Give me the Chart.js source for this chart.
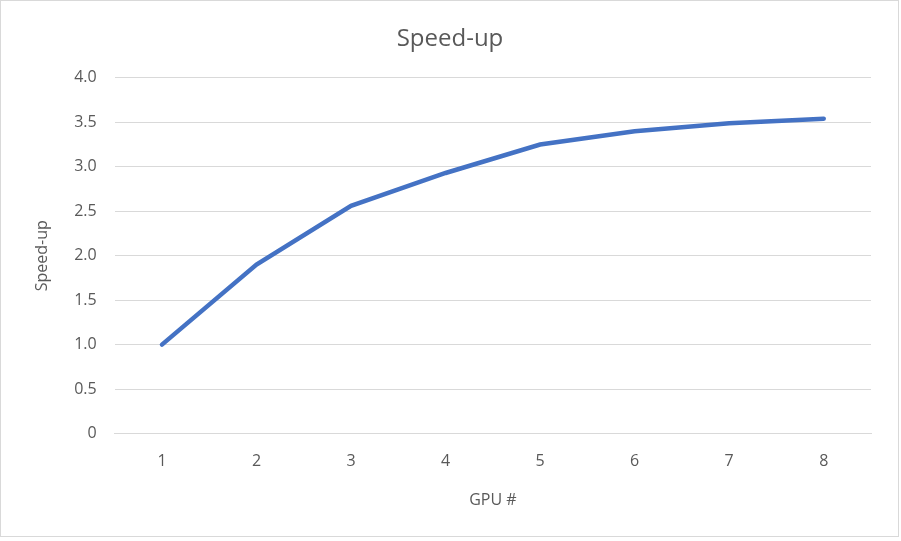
<!DOCTYPE html>
<html><head>
<script src="https://cdn.jsdelivr.net/npm/chart.js@4"></script>
<style>
html,body{margin:0;padding:0;background:#fff;}
#wrap{position:absolute;left:0;top:0;width:899px;height:537px;border:1px solid #d9d9d9;box-sizing:border-box;}
</style>
</head><body>
<div id="wrap"><canvas id="c"></canvas></div>
<script>
const categories = ['1','2','3','4','5','6','7','8'];
const speedup = [1.0, 1.9, 2.56, 2.93, 3.25, 3.40, 3.49, 3.54];
const font = "'Segoe UI','Open Sans','Noto Sans',sans-serif";
new Chart(document.getElementById('c'), {
  type: 'line',
  data: { labels: categories, datasets: [{ data: speedup, borderColor: '#4472C4', borderWidth: 4.5, pointRadius: 0, tension: 0, borderCapStyle: 'round' }] },
  options: {
    responsive: true, maintainAspectRatio: false, animation: false,
    layout: { padding: { left: 28, right: 27, top: 10, bottom: 22 } },
    plugins: {
      legend: { display: false },
      title: { display: true, text: 'Speed-up', color: '#595959', font: { family: font, size: 24, weight: 'normal' }, padding: { top: 14, bottom: 24 } },
      tooltip: { enabled: false }
    },
    scales: {
      x: { offset: true, grid: { display: false }, border: { color: '#d9d9d9' },
        ticks: { color: '#595959', font: { family: font, size: 16 }, padding: 10 },
        title: { display: true, text: 'GPU #', color: '#595959', font: { family: font, size: 16 }, padding: { top: 10 } } },
      y: { min: 0, max: 4, grid: { color: '#d9d9d9', drawTicks: false }, border: { display: false },
        ticks: { stepSize: 0.5, color: '#595959', font: { family: font, size: 16 }, padding: 18 },
        title: { display: true, text: 'Speed-up', color: '#595959', font: { family: font, size: 16 }, padding: { bottom: 4 } } }
    }
  }
});
</script>
</body></html>
